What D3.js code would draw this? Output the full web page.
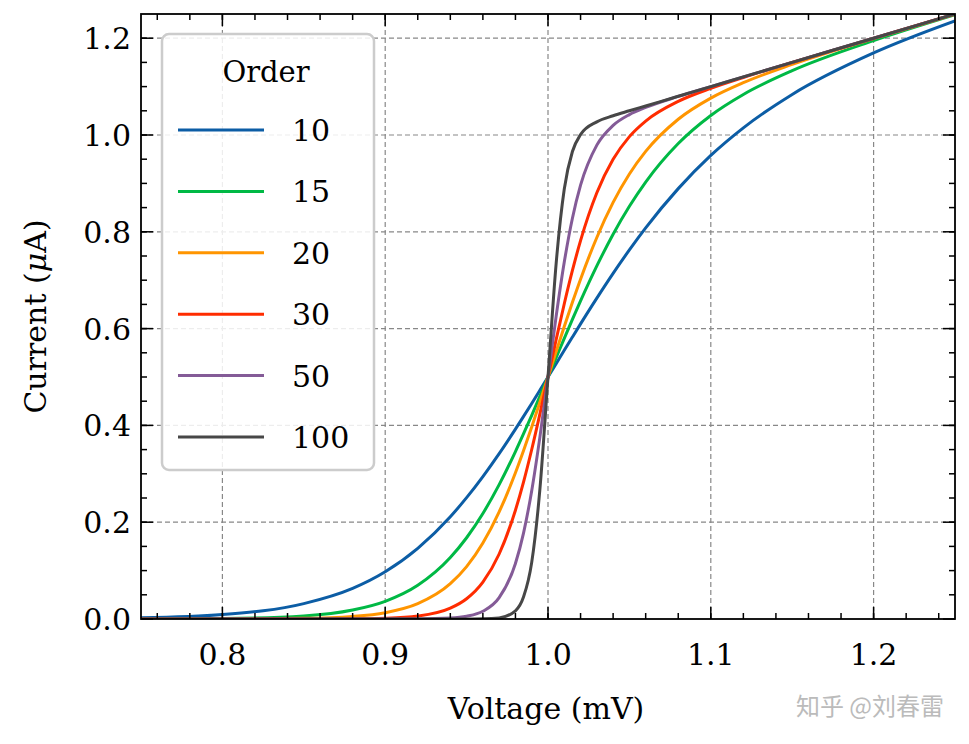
<!DOCTYPE html>
<html><head><meta charset="utf-8">
<script src="https://cdn.jsdelivr.net/npm/d3@7"></script>
<style>body{margin:0;background:#fff}</style></head>
<body><svg id="c" width="969" height="744"></svg>
<script>
const xs=[0.75,0.8,0.85,0.88,0.9,0.92,0.94,0.95,0.96,0.97,0.98,0.985,0.99,0.995,1.0,1.005,1.01,1.015,1.02,1.03,1.04,1.05,1.06,1.08,1.1,1.12,1.15,1.2,1.25];
const orders=["10","15","20","30","50","100"];
const colors=["#0C5DA5","#00B945","#FF9500","#FF2C00","#845B97","#474747"];
const y10=[0.0024,0.0091,0.0318,0.0633,0.0976,0.146,0.2113,0.2507,0.2943,0.3417,0.3924,0.4186,0.4454,0.4726,0.5,0.5275,0.5551,0.5825,0.6097,0.6629,0.7141,0.7626,0.8081,0.8892,0.9578,1.0148,1.0838,1.1695,1.2357];
const y15=[0.0001,0.001,0.0064,0.0186,0.0366,0.0697,0.1271,0.1679,0.218,0.2776,0.3459,0.3828,0.4209,0.4602,0.5,0.54,0.5798,0.619,0.6572,0.7295,0.795,0.8527,0.9028,0.9824,1.0404,1.0838,1.1329,1.195,1.2485];
const y20=[0,0.0001,0.0013,0.0053,0.0131,0.0316,0.0729,0.1082,0.157,0.2214,0.3021,0.3481,0.3968,0.4478,0.5,0.5525,0.6042,0.6543,0.7021,0.7883,0.8607,0.9195,0.9661,1.0325,1.0762,1.1081,1.1458,1.1992,1.2498];
const y30=[0,0,0.0001,0.0004,0.0016,0.0061,0.0224,0.0419,0.0763,0.1343,0.2248,0.2834,0.3502,0.4233,0.5,0.5772,0.6514,0.7201,0.7817,0.8806,0.9497,0.9967,1.0288,1.0694,1.0964,1.1188,1.1499,1.2,1.25];
const y50=[0,0,0,0,0,0.0002,0.0019,0.0056,0.0159,0.0441,0.1148,0.1781,0.2652,0.3753,0.5,0.6253,0.7374,0.8281,0.8963,0.9791,1.0198,1.0421,1.0569,1.0797,1.0999,1.12,1.15,1.2,1.25];
const y100=[0,0,0,0,0,0,0,0,0.0003,0.0022,0.017,0.0458,0.117,0.2671,0.5,0.7343,0.8886,0.9659,1.0009,1.0272,1.0398,1.05,1.06,1.08,1.1,1.12,1.15,1.2,1.25];
const series=[y10,y15,y20,y30,y50,y100];
const xTicks=[0.8,0.9,1.0,1.1,1.2];
const yTicks=[0,0.2,0.4,0.6,0.8,1.0,1.2];

const svg=d3.select("#c"), F="'DejaVu Serif',serif";
const L=141,R=955,T=14,B=619;
const x=d3.scaleLinear().domain([0.75,1.25]).range([L,R]);
const y=d3.scaleLinear().domain([0,1.25]).range([B,T]);
const g=svg.append("g");
g.selectAll(".gx").data(xTicks).join("line").attr("x1",d=>x(d)).attr("x2",d=>x(d)).attr("y1",T).attr("y2",B).attr("stroke","#888").attr("stroke-width",1.2).attr("stroke-dasharray","5,3");
g.selectAll(".gy").data(yTicks.slice(1)).join("line").attr("y1",d=>y(d)).attr("y2",d=>y(d)).attr("x1",L).attr("x2",R).attr("stroke","#888").attr("stroke-width",1.2).attr("stroke-dasharray","5,3");
const line=d3.line().x((d,i)=>x(xs[i])).y(d=>y(d)).curve(d3.curveMonotoneX);
svg.append("clipPath").attr("id","cp").append("rect").attr("x",L).attr("y",T).attr("width",R-L).attr("height",B-T);
series.forEach((s,k)=>g.append("path").attr("d",line(s)).attr("fill","none").attr("stroke",colors[k]).attr("stroke-width",3).attr("clip-path","url(#cp)"));
g.append("rect").attr("x",L).attr("y",T).attr("width",R-L).attr("height",B-T).attr("fill","none").attr("stroke","#000").attr("stroke-width",1.8);
const xMinor=d3.range(0.76,1.25,0.02), yMinor=d3.range(0.05,1.25,0.05);
function tk(vals,len,horiz){vals.forEach(v=>{
 if(horiz){const p=x(v);g.append("line").attr("x1",p).attr("x2",p).attr("y1",B).attr("y2",B-len).attr("stroke","#000").attr("stroke-width",1.5);
  g.append("line").attr("x1",p).attr("x2",p).attr("y1",T).attr("y2",T+len).attr("stroke","#000").attr("stroke-width",1.5);}
 else{const p=y(v);g.append("line").attr("y1",p).attr("y2",p).attr("x1",L).attr("x2",L+len).attr("stroke","#000").attr("stroke-width",1.5);
  g.append("line").attr("y1",p).attr("y2",p).attr("x1",R).attr("x2",R-len).attr("stroke","#000").attr("stroke-width",1.5);}});}
tk(xTicks,12,true);tk(xMinor,6,true);tk(yTicks,12,false);tk(yMinor,6,false);
g.selectAll(".xl").data(xTicks).join("text").attr("x",d=>x(d)).attr("y",B+46).attr("text-anchor","middle").attr("font-family",F).attr("font-size",30).text(d=>d.toFixed(1));
g.selectAll(".yl").data(yTicks).join("text").attr("x",L-10).attr("y",d=>y(d)+11).attr("text-anchor","end").attr("font-family",F).attr("font-size",30).text(d=>d.toFixed(1));
svg.append("text").attr("x",(L+R)/2-2).attr("y",719).attr("text-anchor","middle").attr("font-family",F).attr("font-size",30).text("Voltage (mV)");
svg.append("text").attr("transform",`translate(46,${(T+B)/2}) rotate(-90)`).attr("text-anchor","middle").attr("font-family",F).attr("font-size",30).html("Current (<tspan font-style='italic'>μ</tspan>A)");
svg.append("rect").attr("x",162).attr("y",34).attr("width",212).attr("height",436).attr("rx",7).attr("fill","#fff").attr("fill-opacity",0.85).attr("stroke","#ccc").attr("stroke-width",2.5);
svg.append("text").attr("x",266).attr("y",82).attr("text-anchor","middle").attr("font-family",F).attr("font-size",29).text("Order");
orders.forEach((o,k)=>{const yy=130+k*61.4;
 svg.append("line").attr("x1",178).attr("x2",264).attr("y1",yy).attr("y2",yy).attr("stroke",colors[k]).attr("stroke-width",3);
 svg.append("text").attr("x",292).attr("y",yy+11).attr("font-family",F).attr("font-size",30).text(o);});
svg.append("text").attr("x",944).attr("y",715).attr("text-anchor","end").attr("font-family","'Noto Sans CJK SC',sans-serif").attr("font-size",24).attr("fill","#bbb").text("知乎 @刘春雷");
</script></body></html>
